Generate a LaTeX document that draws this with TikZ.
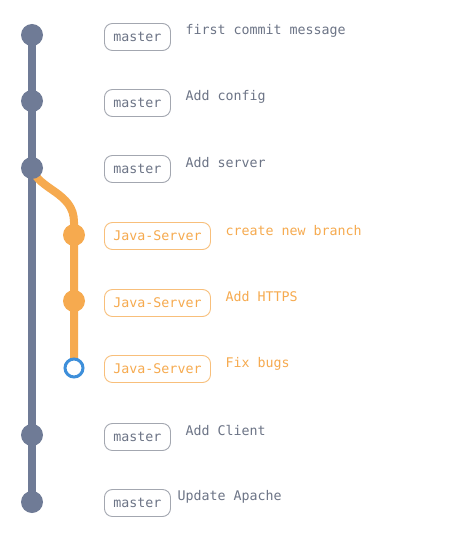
\documentclass[tikz,border=0pt]{standalone}
\usepackage{fontspec}
\setmonofont{DejaVu Sans Mono}
\definecolor{mgray}{HTML}{6F7B96}
\definecolor{morange}{HTML}{F6AA4F}
\definecolor{mblue}{HTML}{3E8FDA}
\definecolor{tgray}{HTML}{6C7486}
\definecolor{bgray}{HTML}{A3A7B0}
\begin{document}
\begin{tikzpicture}[x=1pt,y=-1pt,
  dotm/.style={circle,fill=mgray,minimum size=22pt,inner sep=0pt},
  doto/.style={circle,fill=morange,minimum size=22pt,inner sep=0pt},
  ring/.style={circle,draw=mblue,line width=3pt,fill=white,minimum size=18pt,inner sep=0pt},
  tagm/.style={draw=bgray,line width=0.9pt,rounded corners=8pt,minimum height=27pt,inner xsep=9pt,anchor=west,text=tgray,font=\ttfamily\fontsize{13.3}{15}\selectfont},
  tago/.style={tagm,draw=morange!75,text=morange},
  msgm/.style={anchor=west,text=tgray,font=\ttfamily\fontsize{13.3}{15}\selectfont},
  msgo/.style={msgm,text=morange},
  ]
\useasboundingbox (0,0) rectangle (474,556);
\fill[white] (0,0) rectangle (474,556);
% commits
\coordinate (p1) at (32,35);
\coordinate (p2) at (32,101);
\coordinate (p3) at (32,168);
\coordinate (p4) at (74,235);
\coordinate (p5) at (74,301);
\coordinate (p6) at (74,368);
\coordinate (p7) at (32,435);
\coordinate (p8) at (32,502);
\coordinate (k1) at (74,222);
% lines
\draw[mgray,line width=8pt] (p1) -- (p8);
\draw[morange,line width=8pt] (p3) .. controls (38,190) and (74,192) .. (k1) -- (p4) -- (p6);
% dots
\node[dotm] (c1) at (p1) {};
\node[dotm] (c2) at (p2) {};
\node[dotm] (c3) at (p3) {};
\node[doto] (c4) at (p4) {};
\node[doto] (c5) at (p5) {};
\node[ring] (c6) at (p6) {};
\node[dotm] (c7) at (p7) {};
\node[dotm] (c8) at (p8) {};
% tags
\node[tagm] (b1) at (104,37) {master};
\node[tagm] (b2) at (104,103) {master};
\node[tagm] (b3) at (104,169) {master};
\node[tago] (b4) at (104,236) {Java-Server};
\node[tago] (b5) at (104,303) {Java-Server};
\node[tago] (b6) at (104,369) {Java-Server};
\node[tagm] (b7) at (104,437) {master};
\node[tagm] (b8) at (104,503) {master};
% messages
\node[msgm] (m1) at (182,31) {first commit message};
\node[msgm] (m2) at (182,97) {Add config};
\node[msgm] (m3) at (182,163) {Add server};
\node[msgo] (m4) at (222,231) {create new branch};
\node[msgo] (m5) at (222,297) {Add HTTPS};
\node[msgo] (m6) at (222,364) {Fix bugs};
\node[msgm] (m7) at (182,431) {Add Client};
\node[msgm] (m8) at (174,497) {Update Apache};
\end{tikzpicture}
\end{document}
